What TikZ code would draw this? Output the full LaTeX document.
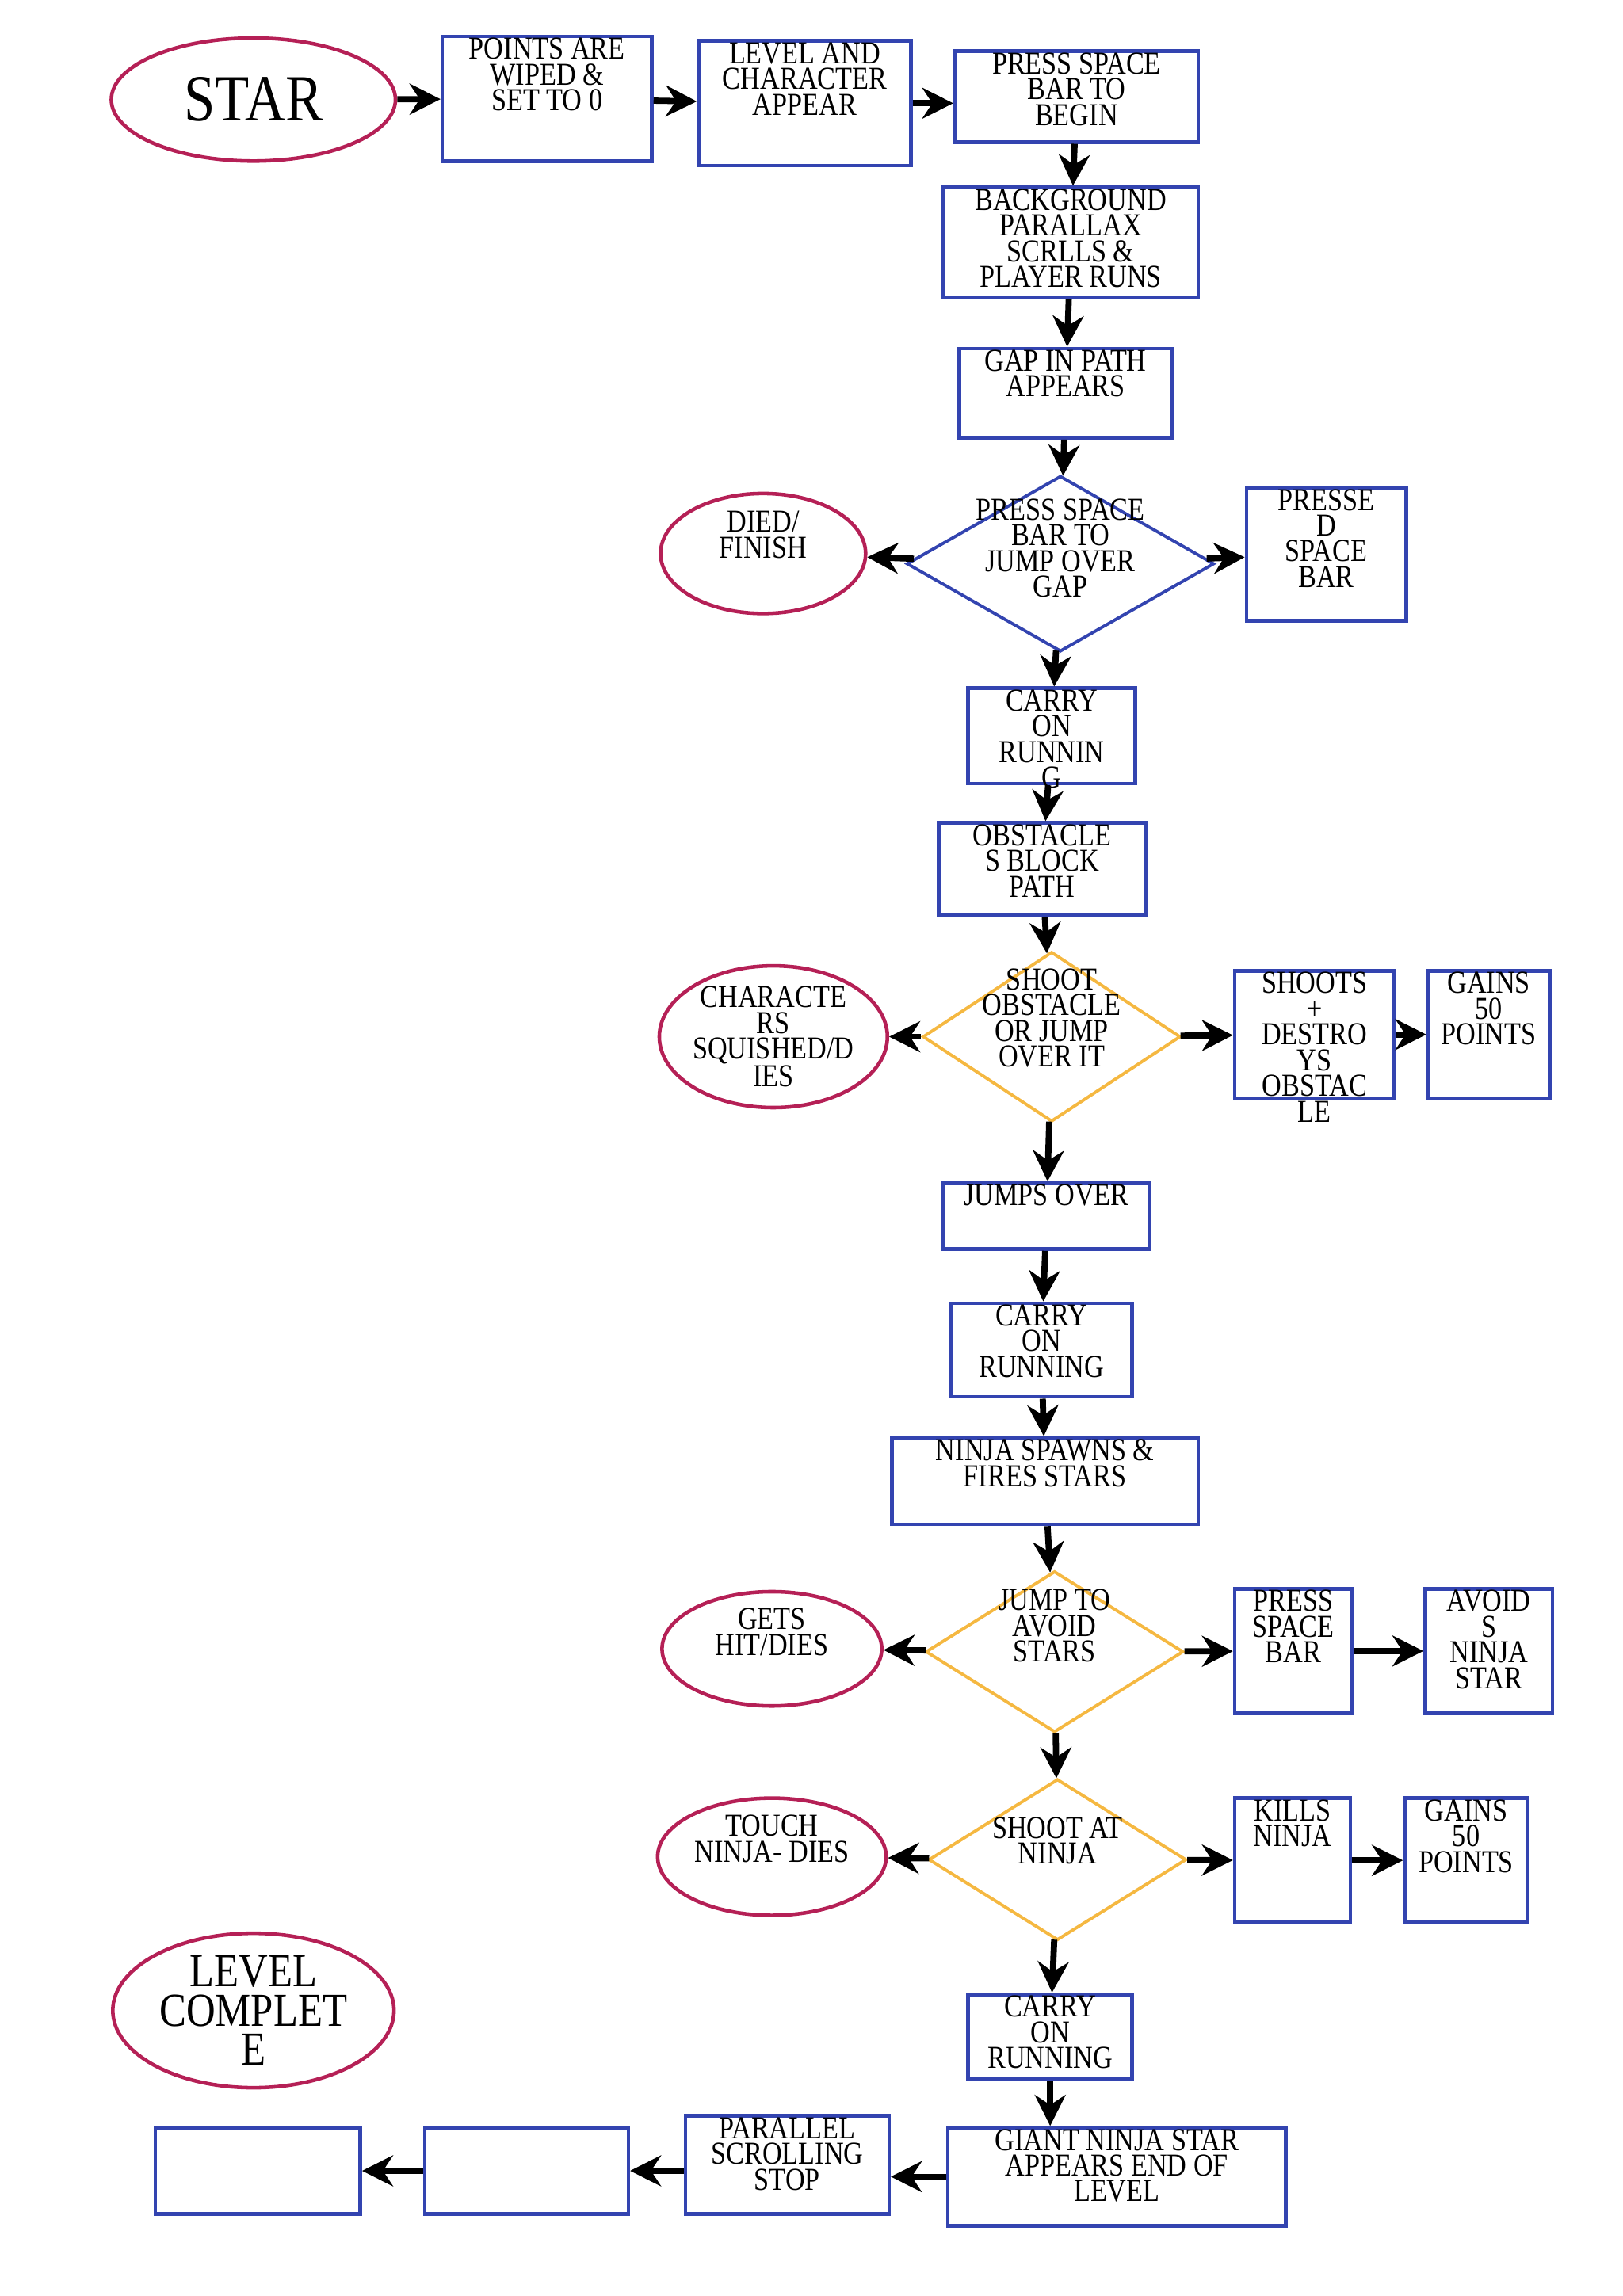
\documentclass[tikz,border=0pt]{standalone}
\usepackage{fontspec}
\setmainfont{Liberation Serif}[FakeStretch=0.85]
\usetikzlibrary{shapes.geometric,arrows.meta}
\definecolor{bblue}{HTML}{3344B0}
\definecolor{crim}{HTML}{B52056}
\definecolor{oran}{HTML}{F5B841}
\tikzset{
 box/.style={draw=bblue,line width=3.5pt,fill=white,inner sep=0pt},
 ell/.style={draw=crim,ellipse,line width=3.5pt,inner sep=0pt,align=center,font=\fontsize{31}{25}\selectfont},
 dia/.style={draw=#1,diamond,line width=3pt,inner sep=0pt},
 dtxt/.style={inner sep=0pt,align=center,font=\fontsize{31}{25}\selectfont},
 arr/.style={-{Stealth[length=30pt,width=30pt]},line width=6pt,black}
}
\newcommand\Bx[6]{\node[box,minimum width={(#4-#2)*0.05cm},minimum height={(#5-#3)*0.05cm}] (#1) at ({(#2+#4)/2},{(#3+#5)/2}) {};
 \node[dtxt,anchor=north,yshift=-3pt] (#1t) at (#1.north) {#6};}
\newcommand\El[6]{\node[ell,minimum width={#4*0.1cm},minimum height={#5*0.1cm}] (#1) at (#2,#3) {#6};}
\newcommand\Di[7]{\node[dia=#7,minimum width={#4*0.1cm},minimum height={#5*0.1cm}] (#1) at (#2,#3) {}; \node[dtxt] (#1t) at (#1) {#6};}
\begin{document}
\begin{tikzpicture}[x=0.05cm,y=-0.05cm]
\useasboundingbox (0,0) rectangle (1108,1568);
\node[ell,minimum width=9.7cm,minimum height=4.2cm,font=\fontsize{64}{50}\selectfont] (star) at (173,68) {STAR};
\Bx{b1}{302}{25}{445}{110}{POINTS ARE\\WIPED \&\\SET TO 0}
\Bx{b2}{477}{28}{622}{113}{LEVEL AND\\CHARACTER\\APPEAR}
\Bx{b3}{652}{35}{818}{97}{PRESS SPACE\\BAR TO\\BEGIN}
\Bx{b4}{644}{128}{818}{203}{BACKGROUND\\PARALLAX\\SCRLLS \&\\PLAYER RUNS}
\Bx{b5}{655}{238}{800}{299}{GAP IN PATH\\APPEARS}
\Di{d1}{724}{385}{105}{60}{PRESS SPACE\\BAR TO\\JUMP OVER\\GAP\\[6pt]}{bblue}
\El{e1}{521}{378}{70}{35}{DIED/\\FINISH\\[12pt]}
\Bx{p1}{851}{333}{960}{424}{PRESSE\\D\\SPACE\\BAR}
\Bx{c1}{661}{470}{775}{535}{CARRY\\ON\\RUNNIN\\G}
\Bx{o1}{641}{562}{782}{625}{OBSTACLE\\S BLOCK\\PATH}
\Di{d2}{718}{708}{88}{58}{SHOOT\\OBSTACLE\\OR JUMP\\OVER IT\\[12pt]}{oran}
\El{e2}{528}{708}{76}{38}{CHARACTE\\RS\\SQUISHED/D\\IES}
\Bx{s1}{843}{663}{952}{750}{SHOOTS\\+\\DESTRO\\YS\\OBSTAC\\LE}
\Bx{g1}{975}{663}{1058}{750}{GAINS\\50\\POINTS}
\Bx{j1}{644}{808}{785}{853}{JUMPS OVER}
\Bx{c2}{649}{890}{773}{954}{CARRY\\ON\\RUNNING}
\Bx{n1}{609}{982}{818}{1041}{NINJA SPAWNS \&\\FIRES STARS}
\Di{d3}{720}{1128}{88}{55}{JUMP TO\\AVOID\\STARS\\[26pt]}{oran}
\El{e3}{527}{1126}{75}{37}{GETS\\HIT/DIES\\[8pt]}
\Bx{p2}{843}{1085}{923}{1170}{PRESS\\SPACE\\BAR}
\Bx{a1}{973}{1085}{1060}{1170}{AVOID\\S\\NINJA\\STAR}
\Di{d4}{722}{1270}{88}{55}{SHOOT AT\\NINJA\\[12pt]}{oran}
\El{e4}{527}{1268}{78}{38}{TOUCH\\NINJA- DIES\\[10pt]}
\Bx{k1}{843}{1228}{922}{1313}{KILLS\\NINJA}
\Bx{g2}{959}{1228}{1043}{1313}{GAINS\\50\\POINTS}
\node[ell,minimum width=9.6cm,minimum height=4.3cm,font=\fontsize{46}{38}\selectfont] (lc) at (173,1373) {LEVEL\\COMPLET\\E};
\Bx{c3}{661}{1362}{773}{1420}{CARRY\\ON\\RUNNING}
\Bx{gn}{647}{1453}{878}{1520}{GIANT NINJA STAR\\APPEARS END OF\\LEVEL}
\Bx{ps}{468}{1445}{607}{1512}{PARALLEL\\SCROLLING\\STOP}
\Bx{x2}{290}{1453}{429}{1512}{}
\Bx{x1}{106}{1453}{246}{1512}{}
\draw[arr] (star) -- (b1);
\draw[arr] (b1) -- (b2);
\draw[arr] (b2) -- (b3.west|-b2);
\draw[arr] (b3) -- (b4);
\draw[arr] (b4) -- (b5);
\draw[arr] (b5) -- (d1);
\draw[arr] (d1) -- (e1);
\draw[arr] (d1) -- (p1);
\draw[arr] (d1) -- (c1);
\draw[arr] (c1) -- (o1);
\draw[arr] (o1) -- (d2);
\draw[arr] (d2) -- (e2);
\draw[arr] (d2) -- (s1);
\draw[arr] (s1) -- (g1);
\draw[arr] (d2) -- (j1);
\draw[arr] (j1) -- (c2);
\draw[arr] (c2) -- (n1);
\draw[arr] (n1) -- (d3);
\draw[arr] (d3) -- (e3);
\draw[arr] (d3) -- (p2);
\draw[arr] (p2) -- (a1);
\draw[arr] (d3) -- (d4);
\draw[arr] (d4) -- (e4);
\draw[arr] (d4) -- (k1);
\draw[arr] (k1) -- (g2);
\draw[arr] (d4) -- (c3);
\draw[arr] (c3) -- (c3|-gn.north);
\draw[arr] (gn) -- (ps.east|-gn);
\draw[arr] (ps.west|-x2) -- (x2);
\draw[arr] (x2) -- (x1);
\end{tikzpicture}
\end{document}
